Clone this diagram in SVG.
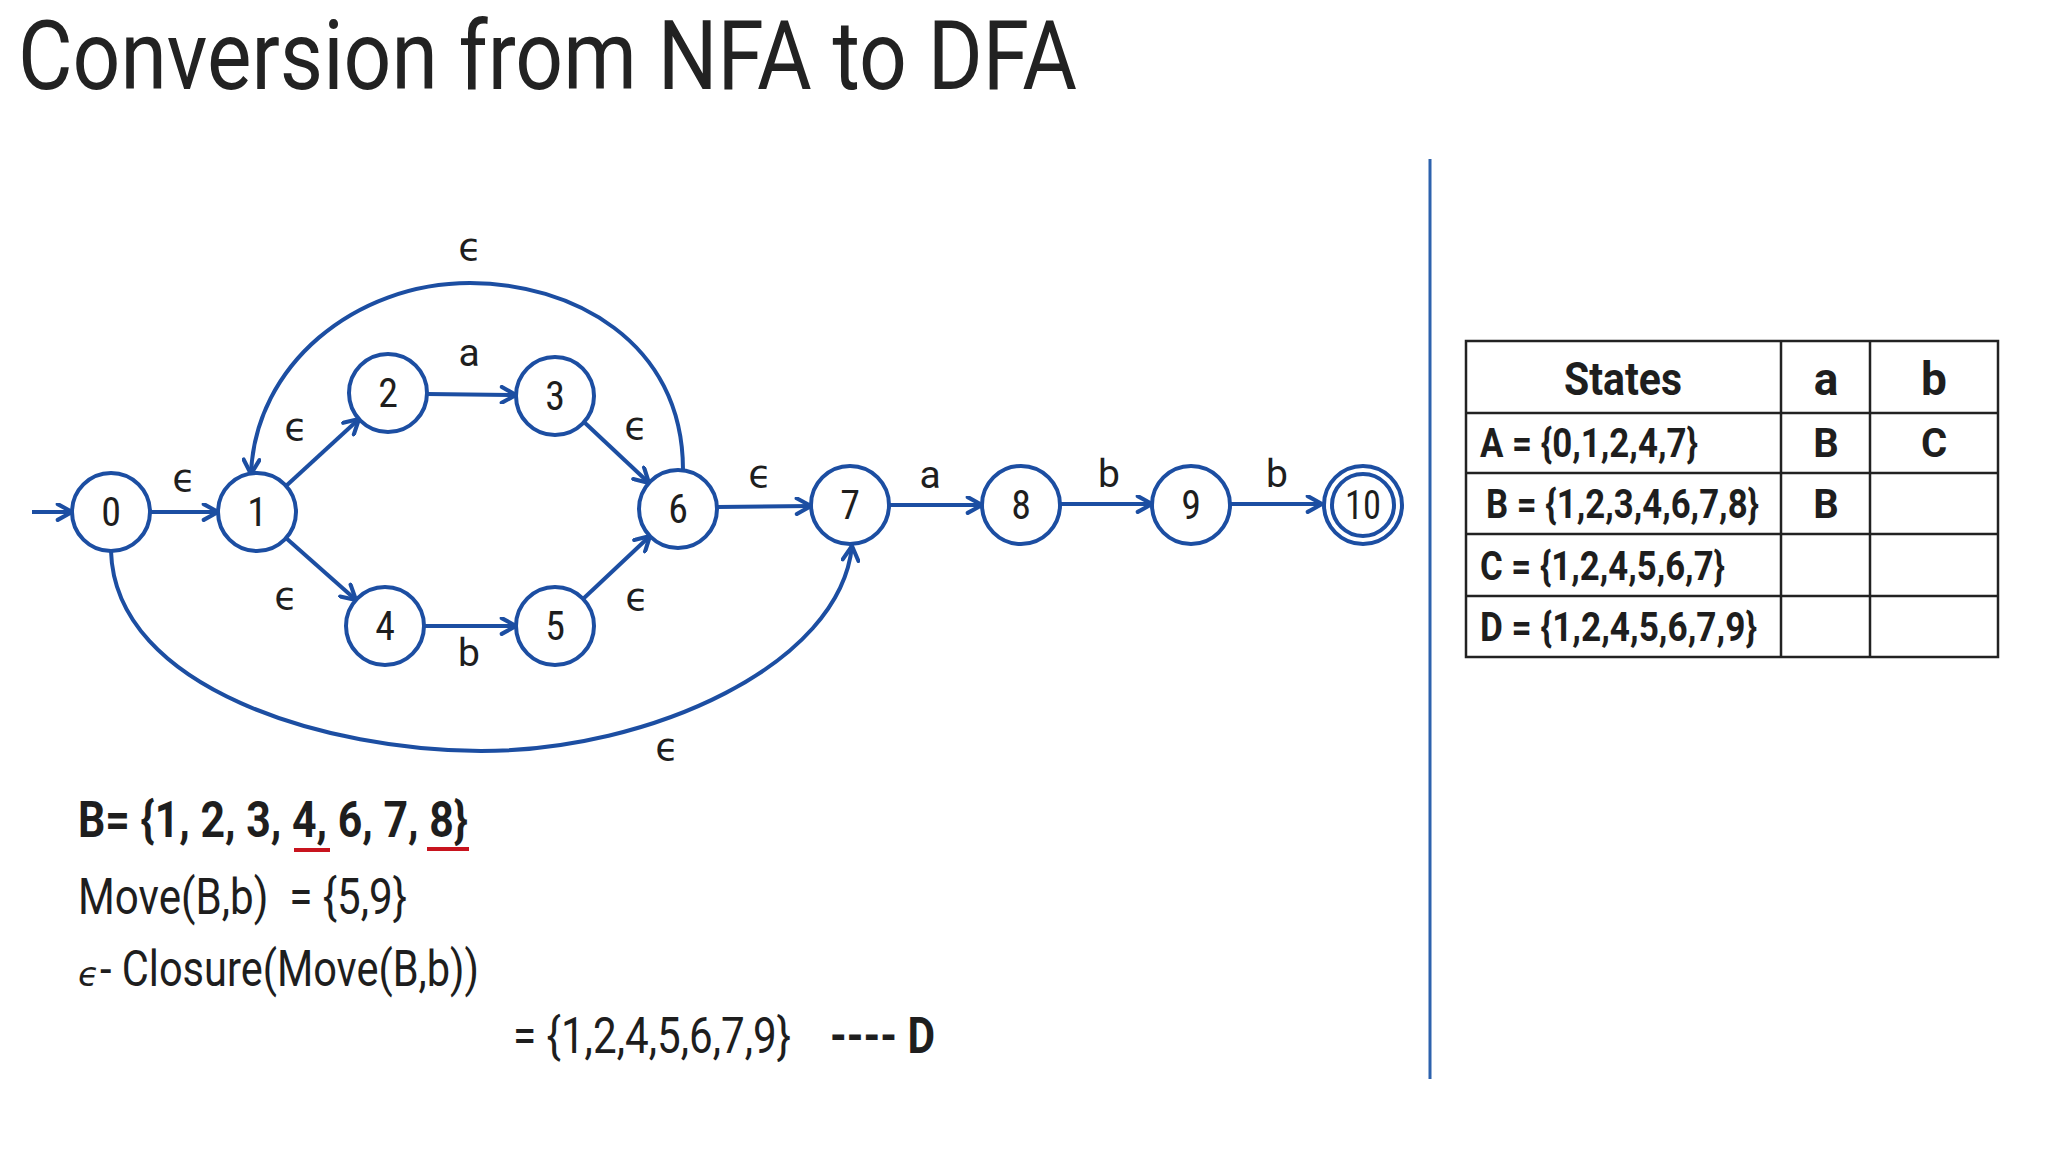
<svg xmlns="http://www.w3.org/2000/svg" width="2048" height="1152" viewBox="0 0 2048 1152">
<defs>
<style>
.node{fill:#fff;stroke:#1c4ea2;stroke-width:4}
.num{font-family:Roboto,"Liberation Sans",sans-serif;font-size:40px;fill:#1e1e1e;text-anchor:middle;font-stretch:condensed}
.edge{fill:none;stroke:#1c4ea2;stroke-width:4;marker-end:url(#arr)}
.lbl{font-family:Roboto,"Liberation Sans",sans-serif;font-size:39px;fill:#1e1e1e;text-anchor:middle}
.eps{font-family:"DejaVu Sans",sans-serif;font-size:38px;fill:#1e1e1e;text-anchor:middle}
.tb{font-family:Roboto,"Liberation Sans",sans-serif;font-weight:bold;fill:#1e1e1e}
.tr{font-family:Roboto,"Liberation Sans",sans-serif;fill:#1e1e1e}
.grid{stroke:#222;stroke-width:2.5}
</style>
<marker id="arr" viewBox="0 0 12 12" refX="10.5" refY="6" markerWidth="19" markerHeight="19" markerUnits="userSpaceOnUse" orient="auto">
<path d="M1.5,1 L10.5,6 L1.5,11" fill="none" stroke="#1c4ea2" stroke-width="2.6" stroke-linecap="round" stroke-linejoin="round"/>
</marker>
</defs>
<rect width="2048" height="1152" fill="#fff"/>
<text x="18" y="89" font-family="Roboto,'Liberation Sans',sans-serif" font-size="97" fill="#222" textLength="1059" lengthAdjust="spacingAndGlyphs">Conversion from NFA to DFA</text>
<line x1="1430" y1="159" x2="1430" y2="1079" stroke="#2d62ad" stroke-width="3"/>

<g id="connectors">
<line class="edge" x1="32" y1="512" x2="72" y2="512"/>
<line class="edge" x1="150" y1="512" x2="218" y2="512"/>
<line class="edge" x1="286" y1="486" x2="359" y2="419"/>
<line class="edge" x1="427" y1="394" x2="516" y2="395"/>
<line class="edge" x1="584" y1="422" x2="649" y2="483"/>
<line class="edge" x1="286" y1="538" x2="356" y2="600"/>
<line class="edge" x1="424" y1="626" x2="516" y2="626"/>
<line class="edge" x1="583" y1="599" x2="650" y2="536"/>
<line class="edge" x1="717" y1="507" x2="811" y2="506"/>
<line class="edge" x1="889" y1="505" x2="982" y2="505"/>
<line class="edge" x1="1060" y1="504" x2="1152" y2="504"/>
<line class="edge" x1="1230" y1="504" x2="1322" y2="504"/>
<path class="edge" d="M683 470 C683 340 570 283 470 283 C355 283 255 365 251 474"/>
<path class="edge" d="M111 551 C115 690 330 751 481 751 C650 751 840 665 852 546"/>
<text class="eps" x="184" y="491">ϵ</text>
<text class="eps" x="296" y="440">ϵ</text>
<text class="lbl" x="469" y="366">a</text>
<text class="eps" x="636" y="439">ϵ</text>
<text class="eps" x="286" y="609">ϵ</text>
<text class="lbl" x="469" y="666">b</text>
<text class="eps" x="637" y="610">ϵ</text>
<text class="eps" x="470" y="260">ϵ</text>
<text class="eps" x="760" y="487">ϵ</text>
<text class="lbl" x="930" y="488">a</text>
<text class="lbl" x="1109" y="487">b</text>
<text class="lbl" x="1277" y="487">b</text>
<text class="eps" x="667" y="760">ϵ</text>
</g>

<g id="n0"><circle class="node" cx="111" cy="512" r="39"/><text class="num" x="111" y="526">0</text></g>
<g id="n1"><circle class="node" cx="257" cy="512" r="39"/><text class="num" x="257" y="526">1</text></g>
<g id="n2"><circle class="node" cx="388" cy="393" r="39"/><text class="num" x="388" y="407">2</text></g>
<g id="n3"><circle class="node" cx="555" cy="396" r="39"/><text class="num" x="555" y="410">3</text></g>
<g id="n4"><circle class="node" cx="385" cy="626" r="39"/><text class="num" x="385" y="640">4</text></g>
<g id="n5"><circle class="node" cx="555" cy="626" r="39"/><text class="num" x="555" y="640">5</text></g>
<g id="n6"><circle class="node" cx="678" cy="509" r="39"/><text class="num" x="678" y="523">6</text></g>
<g id="n7"><circle class="node" cx="850" cy="505" r="39"/><text class="num" x="850" y="519">7</text></g>
<g id="n8"><circle class="node" cx="1021" cy="505" r="39"/><text class="num" x="1021" y="519">8</text></g>
<g id="n9"><circle class="node" cx="1191" cy="505" r="39"/><text class="num" x="1191" y="519">9</text></g>
<g id="n10"><circle class="node" cx="1363" cy="505" r="39"/><circle class="node" cx="1363" cy="505" r="31"/><text class="num" x="1363" y="519" textLength="36" lengthAdjust="spacingAndGlyphs">10</text></g>

<g id="table">
<rect x="1466" y="341" width="532" height="316" fill="none" stroke="#222" stroke-width="2.5"/>
<line class="grid" x1="1781" y1="341" x2="1781" y2="657"/>
<line class="grid" x1="1870" y1="341" x2="1870" y2="657"/>
<line class="grid" x1="1466" y1="413" x2="1998" y2="413"/>
<line class="grid" x1="1466" y1="473" x2="1998" y2="473"/>
<line class="grid" x1="1466" y1="534" x2="1998" y2="534" stroke-width="3.5"/>
<line class="grid" x1="1466" y1="596" x2="1998" y2="596" stroke-width="3.5"/>
<text class="tb" x="1623" y="395" font-size="46" text-anchor="middle" textLength="118" lengthAdjust="spacingAndGlyphs">States</text>
<text class="tb" x="1826" y="395" font-size="46" text-anchor="middle">a</text>
<text class="tb" x="1934" y="395" font-size="46" text-anchor="middle">b</text>
<text class="tb" x="1480" y="457" font-size="40" textLength="218" lengthAdjust="spacingAndGlyphs">A = {0,1,2,4,7}</text>
<text class="tb" x="1826" y="457" font-size="40" text-anchor="middle">B</text>
<text class="tb" x="1934" y="457" font-size="40" text-anchor="middle">C</text>
<text class="tb" x="1486" y="518" font-size="40" textLength="273" lengthAdjust="spacingAndGlyphs">B = {1,2,3,4,6,7,8}</text>
<text class="tb" x="1826" y="518" font-size="40" text-anchor="middle">B</text>
<text class="tb" x="1480" y="580" font-size="40" textLength="245" lengthAdjust="spacingAndGlyphs">C = {1,2,4,5,6,7}</text>
<text class="tb" x="1480" y="641" font-size="40" textLength="277" lengthAdjust="spacingAndGlyphs">D = {1,2,4,5,6,7,9}</text>
</g>

<g id="working">
<text class="tb" x="78" y="837" font-size="50" textLength="390" lengthAdjust="spacingAndGlyphs">B= {1, 2, 3, 4, 6, 7, 8}</text>
<rect x="294" y="848" width="36" height="4" fill="#c8141e"/>
<rect x="427" y="847" width="42" height="4" fill="#c8141e"/>
<text class="tr" x="78" y="914" font-size="50" textLength="329" lengthAdjust="spacingAndGlyphs" style="white-space:pre" xml:space="preserve">Move(B,b)  = {5,9}</text>
<text x="78" y="986" font-family="DejaVu Sans,sans-serif" font-style="italic" font-size="34" fill="#1e1e1e">ϵ</text>
<text class="tr" x="100" y="986" font-size="50" textLength="379" lengthAdjust="spacingAndGlyphs">- Closure(Move(B,b))</text>
<text class="tr" x="513" y="1053" font-size="50" textLength="278" lengthAdjust="spacingAndGlyphs">= {1,2,4,5,6,7,9}</text>
<text class="tb" x="830" y="1053" font-size="50" textLength="105" lengthAdjust="spacingAndGlyphs">---- D</text>
</g>
</svg>
